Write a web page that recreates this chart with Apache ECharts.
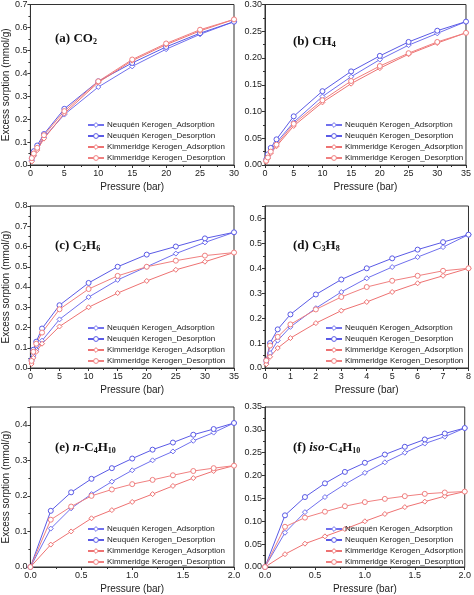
<!DOCTYPE html>
<html>
<head>
<meta charset="UTF-8">
<script src="https://cdn.jsdelivr.net/npm/echarts@6/dist/echarts.min.js"></script>
</head>
<body style="margin:0">
<div id="main" style="width:474px;height:595px;"></div>
<script>
// x values per panel
var xA = [0.2, 0.5, 1, 2, 5, 10, 15, 20, 25, 30];
var xB = [0.2, 0.5, 1, 2, 5, 10, 15, 20, 25, 30, 35];
var xC = [0.2, 0.5, 1, 2, 5, 10, 15, 20, 25, 30, 35];
var xD = [0.05, 0.2, 0.5, 1, 2, 3, 4, 5, 6, 7, 8];
var xE = [0, 0.2, 0.4, 0.6, 0.8, 1.0, 1.2, 1.4, 1.6, 1.8, 2.0];
var xF = [0, 0.2, 0.4, 0.6, 0.8, 1.0, 1.2, 1.4, 1.6, 1.8, 2.0];

// (a) CO2
var aNeuAds = [0.02, 0.04, 0.07, 0.12, 0.22, 0.34, 0.43, 0.505, 0.57, 0.625];
var aNeuDes = [0.03, 0.06, 0.085, 0.135, 0.245, 0.365, 0.445, 0.515, 0.575, 0.625];
var aKimAds = [0.015, 0.04, 0.065, 0.115, 0.225, 0.36, 0.455, 0.525, 0.585, 0.635];
var aKimDes = [0.03, 0.05, 0.075, 0.13, 0.235, 0.365, 0.46, 0.53, 0.59, 0.635];
// (b) CH4
var bNeuAds = [0.008, 0.015, 0.028, 0.042, 0.08, 0.128, 0.165, 0.197, 0.224, 0.246, 0.268];
var bNeuDes = [0.01, 0.02, 0.032, 0.048, 0.091, 0.138, 0.175, 0.204, 0.23, 0.251, 0.268];
var bKimAds = [0.006, 0.012, 0.022, 0.035, 0.073, 0.117, 0.152, 0.181, 0.207, 0.228, 0.247];
var bKimDes = [0.008, 0.014, 0.025, 0.038, 0.077, 0.121, 0.157, 0.185, 0.209, 0.23, 0.247];
// (c) C2H6
var cNeuAds = [0.03, 0.06, 0.09, 0.135, 0.24, 0.35, 0.435, 0.5, 0.565, 0.62, 0.67];
var cNeuDes = [0.04, 0.09, 0.13, 0.195, 0.31, 0.42, 0.5, 0.56, 0.6, 0.64, 0.67];
var cKimAds = [0.02, 0.05, 0.08, 0.12, 0.205, 0.3, 0.37, 0.43, 0.485, 0.525, 0.57];
var cKimDes = [0.035, 0.08, 0.12, 0.175, 0.29, 0.39, 0.455, 0.5, 0.53, 0.555, 0.57];
// (d) C3H8
var dNeuAds = [0.02, 0.06, 0.11, 0.165, 0.24, 0.305, 0.36, 0.405, 0.445, 0.485, 0.535];
var dNeuDes = [0.03, 0.1, 0.155, 0.215, 0.295, 0.355, 0.4, 0.44, 0.475, 0.505, 0.535];
var dKimAds = [0.015, 0.045, 0.08, 0.12, 0.18, 0.23, 0.265, 0.305, 0.34, 0.37, 0.4];
var dKimDes = [0.03, 0.09, 0.125, 0.175, 0.235, 0.285, 0.325, 0.35, 0.37, 0.39, 0.4];
// (e) n-C4H10
var eNeuAds = [0, 0.108, 0.165, 0.205, 0.24, 0.272, 0.3, 0.325, 0.355, 0.378, 0.405];
var eNeuDes = [0, 0.158, 0.21, 0.248, 0.278, 0.305, 0.33, 0.35, 0.372, 0.388, 0.405];
var eKimAds = [0, 0.063, 0.1, 0.137, 0.16, 0.183, 0.205, 0.228, 0.25, 0.27, 0.285];
var eKimDes = [0, 0.133, 0.17, 0.2, 0.218, 0.233, 0.245, 0.258, 0.27, 0.278, 0.285];
// (f) iso-C4H10
var fNeuAds = [0, 0.075, 0.12, 0.153, 0.181, 0.206, 0.229, 0.25, 0.27, 0.285, 0.304];
var fNeuDes = [0, 0.113, 0.153, 0.183, 0.208, 0.228, 0.246, 0.263, 0.279, 0.292, 0.304];
var fKimAds = [0, 0.028, 0.051, 0.067, 0.083, 0.1, 0.116, 0.131, 0.143, 0.155, 0.165];
var fKimDes = [0, 0.088, 0.108, 0.121, 0.133, 0.142, 0.149, 0.155, 0.16, 0.163, 0.165];

var names = ['Neuquén Kerogen_Adsorption', 'Neuquén Kerogen_Desorption',
             'Kimmeridge Kerogen_Adsorption', 'Kimmeridge Kerogen_Desorption'];
var colors = ['#7070ee', '#5a5ae6', '#ee7272', '#f08080'];
var symbols = ['diamond', 'circle', 'diamond', 'circle'];

var panels = [
  { x: xA, ys: [aNeuAds, aNeuDes, aKimAds, aKimDes], left: 27, top: 3, xmax: 30, xint: 5, ymax: 0.7, yint: 0.1, yd: 1, xd: 0, title: '{b|(a) CO}{s|2}', tl: 50, tt: 27 },
  { x: xB, ys: [bNeuAds, bNeuDes, bKimAds, bKimDes], left: 265, top: 3, xmax: 35, xint: 5, ymax: 0.3, yint: 0.05, yd: 2, xd: 0, title: '{b|(b) CH}{s|4}', tl: 288, tt: 30 },
  { x: xC, ys: [cNeuAds, cNeuDes, cKimAds, cKimDes], left: 27, top: 206, xmax: 35, xint: 5, ymax: 0.8, yint: 0.1, yd: 1, xd: 0, title: '{b|(c) C}{s|2}{b|H}{s|6}', tl: 50, tt: 234 },
  { x: xD, ys: [dNeuAds, dNeuDes, dKimAds, dKimDes], left: 265, top: 206, xmax: 8, xint: 1, ymax: 0.65, yint: 0.1, yd: 1, xd: 0, title: '{b|(d) C}{s|3}{b|H}{s|8}', tl: 288, tt: 234 },
  { x: xE, ys: [eNeuAds, eNeuDes, eKimAds, eKimDes], left: 27, top: 407, xmax: 2, xint: 0.5, ymax: 0.45, yint: 0.1, yd: 1, xd: 1, title: '{b|(e) }{i|n}{b|-C}{s|4}{b|H}{s|10}', tl: 50, tt: 436 },
  { x: xF, ys: [fNeuAds, fNeuDes, fKimAds, fKimDes], left: 265, top: 407, xmax: 2, xint: 0.5, ymax: 0.35, yint: 0.05, yd: 2, xd: 1, title: '{b|(f) }{i|iso}{b|-C}{s|4}{b|H}{s|10}', tl: 288, tt: 436 }
];

var grid = [], xAxis = [], yAxis = [], series = [], legend = [], title = [];
var lab = { fontFamily: 'Liberation Sans', fontSize: 9, color: '#222' };

panels.forEach(function (p, i) {
  grid.push({ left: p.left, top: p.top, width: 207, height: 162, show: true, borderColor: '#333', borderWidth: 1 });
  xAxis.push({
    type: 'value', gridIndex: i, min: 0, max: p.xmax, interval: p.xint,
    name: 'Pressure (bar)', nameLocation: 'middle', nameGap: 17,
    nameTextStyle: { fontFamily: 'Liberation Sans', fontSize: 10, color: '#222' },
    axisLine: { lineStyle: { color: '#333' } }, axisTick: { length: 3 },
    minorTick: { show: true, splitNumber: 2, length: 2 },
    splitLine: { show: false },
    axisLabel: Object.assign({ margin: 4, formatter: function (v) { return v.toFixed(p.xd); } }, lab)
  });
  yAxis.push({
    type: 'value', gridIndex: i, min: 0, max: p.ymax, interval: p.yint,
    name: i % 2 === 0 ? 'Excess sorption (mmol/g)' : '', nameLocation: 'middle', nameGap: 19,
    nameTextStyle: { fontFamily: 'Liberation Sans', fontSize: 10, color: '#222' },
    axisLine: { show: true, lineStyle: { color: '#333' } }, axisTick: { length: 3 },
    minorTick: { show: true, splitNumber: 2, length: 2 },
    splitLine: { show: false },
    axisLabel: Object.assign({ margin: 3, showMaxLabel: p.ymax / p.yint % 1 < 1e-6 || p.ymax / p.yint % 1 > 1 - 1e-6,
      formatter: function (v) { return v.toFixed(p.yd); } }, lab)
  });
  p.ys.forEach(function (ys, k) {
    series.push({
      name: names[k], type: 'line', xAxisIndex: i, yAxisIndex: i,
      data: p.x.map(function (xv, j) { return [xv, ys[j]]; }),
      symbol: symbols[k], symbolSize: 5, showAllSymbol: true,
      itemStyle: { color: '#fff', borderColor: colors[k], borderWidth: 1 },
      lineStyle: { color: colors[k], width: 1 }, color: colors[k]
    });
  });
  legend.push({
    left: p.left + 60, top: p.top + 117, orient: 'vertical', itemGap: 1, padding: 0,
    itemWidth: 16, itemHeight: 6, data: names,
    itemStyle: { borderWidth: 1 },
    textStyle: { fontFamily: 'Liberation Sans', fontSize: 8, color: '#222', lineHeight: 10, padding: [0, 0, 0, -2] }
  });
  title.push({
    left: p.tl, top: p.tt,
    text: p.title,
    textStyle: {
      rich: {
        b: { fontFamily: 'Liberation Serif', fontWeight: 'bold', fontSize: 13, color: '#111' },
        i: { fontFamily: 'Liberation Serif', fontWeight: 'bold', fontStyle: 'italic', fontSize: 13, color: '#111' },
        s: { fontFamily: 'Liberation Serif', fontWeight: 'bold', fontSize: 8, color: '#111', verticalAlign: 'bottom', padding: [6, 0, 0, 0] }
      }
    }
  });
});

var myChart = echarts.init(document.getElementById('main'));
myChart.setOption({
  animation: false, backgroundColor: '#fff',
  grid: grid, xAxis: xAxis, yAxis: yAxis, series: series, legend: legend, title: title
});
</script>
</body>
</html>
